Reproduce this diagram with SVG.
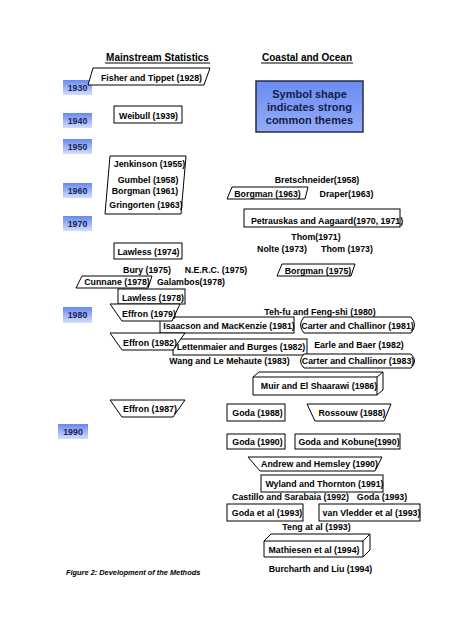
<svg xmlns="http://www.w3.org/2000/svg" width="474" height="632" viewBox="0 0 474 632">
<style>
.t{font-family:"Liberation Sans",Arial,sans-serif;font-weight:bold;font-size:8.8px;fill:#000;text-anchor:middle}
.h{font-family:"Liberation Sans",Arial,sans-serif;font-weight:bold;font-size:10px;fill:#000;text-anchor:middle}
.y{font-family:"Liberation Sans",Arial,sans-serif;font-weight:bold;font-size:8.8px;fill:#1a2456;text-anchor:middle}
.sy{font-family:"Liberation Sans",Arial,sans-serif;font-weight:bold;font-size:11px;fill:#141c4a;text-anchor:middle}
.cap{font-family:"Liberation Sans",Arial,sans-serif;font-weight:bold;font-style:italic;font-size:7.4px;fill:#000}
.s{fill:#fff;stroke:#000;stroke-width:1}
.yb{fill:url(#yg)}
.ul{stroke:#000;stroke-width:1}
</style>
<defs>
<linearGradient id="yg" x1="0" y1="0" x2="0" y2="1">
<stop offset="0" stop-color="#6688f0"/>
<stop offset="1" stop-color="#d3defc"/>
</linearGradient>
<linearGradient id="sg" x1="0" y1="0" x2="0" y2="1">
<stop offset="0" stop-color="#6a8cf2"/>
<stop offset="1" stop-color="#93acf7"/>
</linearGradient>
</defs>
<rect width="474" height="632" fill="#fff"/>

<g id="headers">
<text class="h" x="157.5" y="61">Mainstream Statistics</text>
<line class="ul" x1="105" y1="63" x2="210" y2="63"/>
<text class="h" x="307" y="61">Coastal and Ocean</text>
<line class="ul" x1="261" y1="63" x2="353" y2="63"/>
</g>

<g id="years">
<g id="y1930"><rect class="yb" x="63" y="80" width="29" height="15"/><text class="y" x="77.5" y="90.5">1930</text></g>
<g id="y1940"><rect class="yb" x="63" y="113" width="29" height="15"/><text class="y" x="77.5" y="123.5">1940</text></g>
<g id="y1950"><rect class="yb" x="63" y="139" width="29" height="15"/><text class="y" x="77.5" y="149.5">1950</text></g>
<g id="y1960"><rect class="yb" x="63" y="183" width="29" height="15"/><text class="y" x="77.5" y="193.5">1960</text></g>
<g id="y1970"><rect class="yb" x="63" y="216" width="29" height="15"/><text class="y" x="77.5" y="226.5">1970</text></g>
<g id="y1980"><rect class="yb" x="63" y="307" width="29" height="16"/><text class="y" x="77.5" y="318">1980</text></g>
<g id="y1990"><rect class="yb" x="58" y="424" width="30" height="15"/><text class="y" x="73" y="434.5">1990</text></g>
</g>

<g id="legend">
<rect x="256" y="81" width="107" height="51" fill="url(#sg)" stroke="#2a2c44" stroke-width="1.5"/>
<text class="sy" x="309.5" y="97.5">Symbol shape</text>
<text class="sy" x="309.5" y="111">indicates strong</text>
<text class="sy" x="309.5" y="124">common themes</text>
</g>

<g id="connectors"/>

<g id="fisher"><path class="s" d="M93,68 L210,68 L204,85 L88,85 Z"/><text class="t" x="151.5" y="81">Fisher and Tippet (1928)</text></g>
<g id="weibull"><rect class="s" x="114" y="106" width="68" height="17"/><text class="t" x="148.5" y="119">Weibull (1939)</text></g>

<g id="group1955">
<path class="s" d="M110,156 L186,156 L181,214 L105,214 Z"/>
<text class="t" x="149.5" y="167">Jenkinson (1955)</text>
<text class="t" x="148" y="183">Gumbel (1958)</text>
<text class="t" x="145" y="194">Borgman (1961)</text>
<text class="t" x="146" y="208">Gringorten (1963)</text>
</g>

<g id="bretschneider"><text class="t" x="317" y="183">Bretschneider(1958)</text></g>
<g id="borgman1963"><path class="s" d="M232,187 L308,187 L305,199 L227,199 Z"/><text class="t" x="267.5" y="197">Borgman (1963)</text></g>
<g id="draper"><text class="t" x="346.5" y="197">Draper(1963)</text></g>
<g id="petrauskas"><rect class="s" x="244" y="209" width="156" height="18"/><text class="t" x="327" y="224">Petrauskas and Aagaard(1970, 1971)</text></g>
<g id="thom1971"><text class="t" x="316" y="240">Thom(1971)</text></g>
<g id="nolte"><text class="t" x="282" y="252">Nolte (1973)</text></g>
<g id="thom1973"><text class="t" x="347" y="252">Thom (1973)</text></g>

<g id="lawless1974"><rect class="s" x="114" y="243" width="68" height="16"/><text class="t" x="148.5" y="255">Lawless (1974)</text></g>
<g id="bury"><text class="t" x="147" y="273">Bury (1975)</text></g>
<g id="nerc"><text class="t" x="216" y="273">N.E.R.C. (1975)</text></g>
<g id="borgman1975"><path class="s" d="M282,264 L355,264 L351,276 L277,276 Z"/><text class="t" x="318" y="274">Borgman (1975)</text></g>
<g id="cunnane"><path class="s" d="M82,276 L152,276 L148,288 L76,288 Z"/><text class="t" x="117" y="285">Cunnane (1978)</text></g>
<g id="galambos"><text class="t" x="191" y="285">Galambos(1978)</text></g>
<g id="lawless1978"><rect class="s" x="118" y="289" width="67" height="15"/><text class="t" x="153" y="301">Lawless (1978)</text></g>

<g id="isaacson"><rect class="s" x="160" y="317" width="134" height="16"/><text class="t" x="229" y="329">Isaacson and MacKenzie (1981)</text></g>
<g id="effron1979"><path class="s" d="M110,304 L180,304 L172,321 L122,321 Z"/><text class="t" x="149" y="317">Effron (1979)</text></g>
<g id="tehfu"><text class="t" x="320" y="315">Teh-fu and Feng-shi (1980)</text></g>
<g id="carter1981"><path class="s" d="M304,317 L411,317 Q418,325 411,333 L304,333 Q297,325 304,317 Z"/><text class="t" x="357.5" y="329">Carter and Challinor (1981)</text></g>

<g id="lettenmaier"><rect class="s" x="173" y="339" width="134" height="16"/><text class="t" x="241" y="350">Lettenmaier and Burges (1982)</text></g>
<g id="effron1982"><path class="s" d="M110,333 L185,333 L173,350 L122,350 Z"/><text class="t" x="150" y="346">Effron (1982)</text></g>
<g id="earle"><text class="t" x="359" y="348">Earle and Baer (1982)</text></g>
<g id="wang"><text class="t" x="229.5" y="364">Wang and Le Mehaute (1983)</text></g>
<g id="carter1983"><path class="s" d="M304,354 L411,354 Q418,361 411,368 L304,368 Q297,361 304,354 Z"/><text class="t" x="358" y="364">Carter and Challinor (1983)</text></g>

<g id="muir"><path class="s" d="M253,377 L259,372 L383,372 L383,390 L377,395 L253,395 Z"/><path fill="none" stroke="#000" d="M253,377 L377,377 L383,372 M377,377 L377,395"/><text class="t" x="319" y="389">Muir and El Shaarawi (1986)</text></g>

<g id="effron1987"><path class="s" d="M110,400 L185,400 L173,417 L122,417 Z"/><text class="t" x="150" y="412">Effron (1987)</text></g>
<g id="goda1988"><rect class="s" x="227" y="404" width="58" height="17"/><text class="t" x="257.5" y="416">Goda (1988)</text></g>
<g id="rossouw"><path class="s" d="M307,404 L391,404 L384,421 L315,421 Z"/><text class="t" x="352" y="416">Rossouw (1988)</text></g>

<g id="goda1990"><rect class="s" x="227" y="434" width="58" height="15"/><text class="t" x="257.5" y="445">Goda (1990)</text></g>
<g id="gokobune"><rect class="s" x="295" y="434" width="105" height="15"/><text class="t" x="349" y="445">Goda and Kobune(1990)</text></g>
<g id="andrew"><path class="s" d="M248,457 L382,457 L375,471 L260,471 Z"/><text class="t" x="319.5" y="466.5">Andrew and Hemsley (1990)</text></g>
<g id="wyland"><rect class="s" x="261" y="475" width="122" height="17"/><text class="t" x="324.5" y="487">Wyland and Thornton (1991)</text></g>
<g id="castillo"><text class="t" x="290.5" y="500">Castillo and Sarabaia (1992)</text></g>
<g id="goda1993"><text class="t" x="382" y="500">Goda (1993)</text></g>
<g id="godaetal"><rect class="s" x="227" y="504" width="76" height="17"/><text class="t" x="267" y="516">Goda et al (1993)</text></g>
<g id="vledder"><rect class="s" x="319" y="504" width="101" height="17"/><text class="t" x="371.5" y="516">van Vledder et al (1993)</text></g>
<g id="teng"><text class="t" x="316.5" y="530">Teng at al (1993)</text></g>
<g id="mathiesen"><path class="s" d="M264,541 L271,534 L370,534 L370,550 L363,557 L264,557 Z"/><path fill="none" stroke="#000" d="M264,541 L363,541 L370,534 M363,541 L363,557"/><text class="t" x="314" y="553">Mathiesen et al (1994)</text></g>
<g id="burcharth"><text class="t" x="320.5" y="572">Burcharth and Liu (1994)</text></g>

<text class="cap" x="66" y="575">Figure 2: Development of the Methods</text>
</svg>
